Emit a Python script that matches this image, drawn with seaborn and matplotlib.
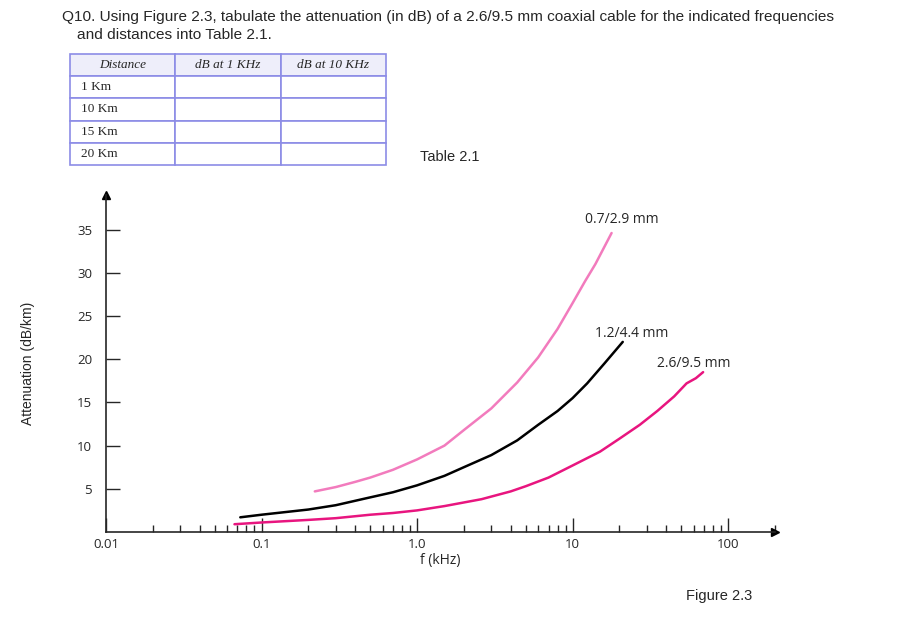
import numpy as np
import pandas as pd
import matplotlib.pyplot as plt
import seaborn as sns

# values (f in kHz, attenuation in dB/km)
cables = ["0.7/2.9 mm", "1.2/4.4 mm", "2.6/9.5 mm"]
freq_small = [0.22, 0.3, 0.4, 0.5, 0.7, 1.0, 1.5, 2.0, 3.0, 4.4, 6.0, 8.0, 10.0, 12.0, 14.0, 17.8]
att_small = [4.7, 5.2, 5.8, 6.3, 7.2, 8.4, 10.0, 11.8, 14.3, 17.3, 20.2, 23.5, 26.5, 29.0, 31.0, 34.6]
freq_mid = [0.073, 0.1, 0.2, 0.3, 0.47, 0.7, 1.0, 1.5, 2.0, 3.0, 4.4, 6.0, 8.0, 10.0, 12.4, 16.0, 21.0]
att_mid = [1.7, 2.0, 2.6, 3.1, 3.9, 4.6, 5.4, 6.5, 7.5, 8.9, 10.6, 12.4, 14.0, 15.5, 17.2, 19.5, 22.0]
freq_big = [0.067, 0.1, 0.2, 0.3, 0.5, 0.7, 1.0, 1.5, 2.6, 4.0, 5.0, 7.0, 10.0, 15.0, 20.0, 27.0, 35.0, 45.0, 54.0, 62.0, 69.0]
att_big = [0.9, 1.1, 1.4, 1.6, 2.0, 2.2, 2.5, 3.0, 3.8, 4.7, 5.3, 6.3, 7.7, 9.3, 10.8, 12.4, 14.0, 15.7, 17.2, 17.8, 18.5]
palette = ["#f27bbd", "black", "#e8157f"]

table_cols = ["Distance", "dB at 1 KHz", "dB at 10 KHz"]
table_rows = ["1 Km", "10 Km", "15 Km", "20 Km"]

df = pd.concat([
    pd.DataFrame({"f": freq_small, "att": att_small, "cable": cables[0]}),
    pd.DataFrame({"f": freq_mid, "att": att_mid, "cable": cables[1]}),
    pd.DataFrame({"f": freq_big, "att": att_big, "cable": cables[2]}),
])

sns.set_style("white")
plt.rcParams["font.family"] = ["DejaVu Sans"]

W, H = 901, 621
fig = plt.figure(figsize=(W / 100, H / 100), dpi=100)


def box(l, t, r, b):
    return [l / W, 1 - b / H, (r - l) / W, (b - t) / H]


fig.text(62 / W, 1 - 17 / H, "Q10. Using Figure 2.3, tabulate the attenuation (in dB) of a 2.6/9.5 mm coaxial cable for the indicated frequencies",
         fontsize=11.1, family="Liberation Sans", va="center")
fig.text(77 / W, 1 - 35 / H, "and distances into Table 2.1.",
         fontsize=11.1, family="Liberation Sans", va="center")
fig.text(420 / W, 1 - 157 / H, "Table 2.1", fontsize=10.5, family="Liberation Sans", va="center")
fig.text(686 / W, 1 - 596 / H, "Figure 2.3", fontsize=10.5, family="Liberation Sans", va="center")

# table
tax = fig.add_axes(box(70, 54, 386, 165))
tax.axis("off")
cells = [[r, "", ""] for r in table_rows]
tbl = tax.table(cellText=cells, colLabels=table_cols, bbox=[0, 0, 1, 1], cellLoc="left")
for (i, j), c in tbl.get_celld().items():
    c.set_edgecolor("#8c8ce6")
    c.set_linewidth(1.2)
    c.get_text().set_fontfamily("Liberation Serif")
    c.get_text().set_fontsize(9.5)
    if i == 0:
        c.set_facecolor("#eeeefa")
        c.get_text().set_fontstyle("italic")
        c._loc = "center"

# chart
ax = fig.add_axes(box(106, 195, 775, 532))
sns.lineplot(data=df, x="f", y="att", hue="cable", palette=palette, ax=ax,
             legend=False, linewidth=1.8, sort=True)
ax.set_xscale("log")
ax.set_xlim(0.01, 200)
ax.set_ylim(0, 39)
for s in ["top", "right"]:
    ax.spines[s].set_visible(False)
for s in ["left", "bottom"]:
    ax.spines[s].set_linewidth(1.2)
ax.plot(1, 0, ">k", transform=ax.transAxes, clip_on=False, markersize=6)
ax.plot(0, 1, "^k", transform=ax.transAxes, clip_on=False, markersize=6)

ax.set_yticks([5, 10, 15, 20, 25, 30, 35])
ax.set_yticklabels(["5", "10", "15", "20", "25", "30", "35"], fontsize=9.5, family="Open Sans")
ax.tick_params(axis="y", direction="in", length=10, width=1, left=True, pad=10)
ax.set_xticks([0.01, 0.1, 1, 10, 100])
ax.set_xticklabels(["0.01", "0.1", "1.0", "10", "100"], fontsize=9.5, family="Open Sans")
ax.tick_params(axis="x", which="major", direction="in", length=10, width=1, bottom=True, pad=4)
ax.tick_params(axis="x", which="minor", direction="in", length=5, width=1, bottom=True)
ax.set_xlabel("f (kHz)", fontsize=10, family="Open Sans", labelpad=2)
ax.set_ylabel("Attenuation (dB/km)", fontsize=10, family="Liberation Sans", labelpad=30)

label_pos = [(12, 36.2), (14, 23.0), (35, 19.5)]
for name, (x, y) in zip(cables, label_pos):
    ax.text(x, y, name, fontsize=10, family="Open Sans", va="center")

fig.savefig("out.png", dpi=100)
